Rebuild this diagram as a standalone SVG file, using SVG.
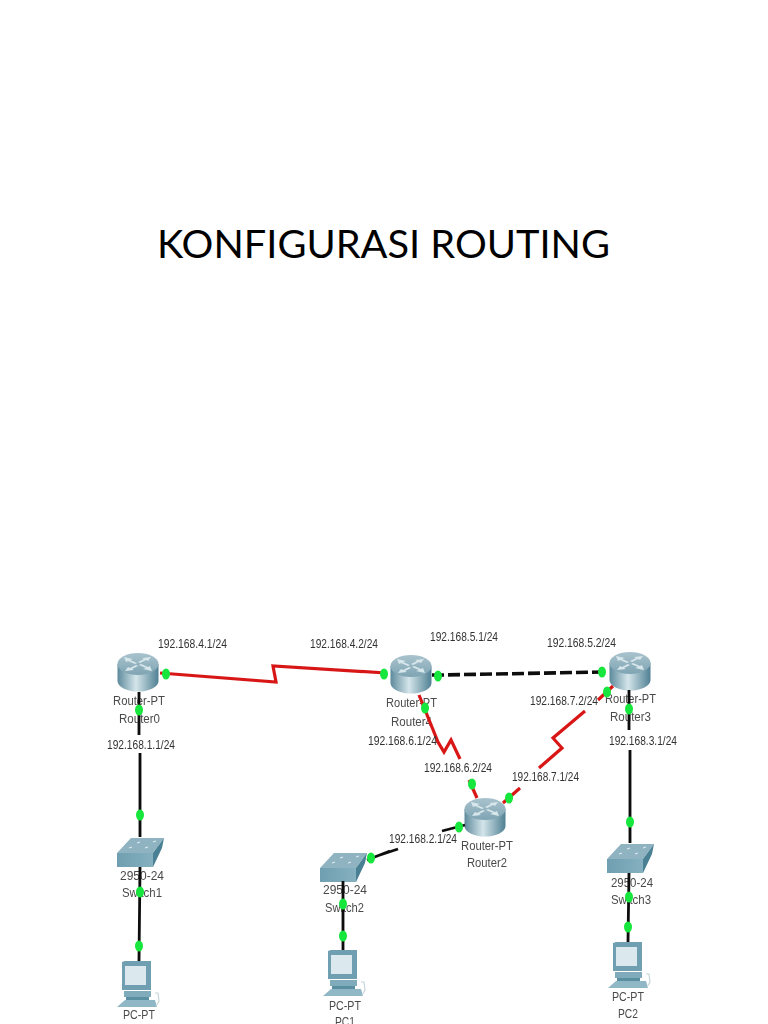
<svg xmlns="http://www.w3.org/2000/svg" xmlns:xlink="http://www.w3.org/1999/xlink" width="768" height="1024" viewBox="0 0 768 1024">
<style>
.title{font-family:"Lato","Liberation Sans",sans-serif;font-size:38px;fill:#000}
.lb{font-family:"Liberation Sans",Arial,sans-serif;font-size:12.5px;fill:#4a4a4a;text-anchor:start}
.ip{fill:#333}
.blk,.red,.dash{fill:none;stroke-linejoin:miter;stroke-linecap:butt}
.blk{stroke:#0c0c0c;stroke-width:2.800}
.red{stroke:#d81818;stroke-width:3.200}
.dash{stroke:#0c0c0c;stroke-width:3.600;stroke-dasharray:12 4}
.dot{fill:#19e63c}
.soft{filter:url(#soft)}
</style>
<defs>
<filter id="soft" x="-5%" y="-5%" width="110%" height="110%"><feGaussianBlur stdDeviation="0.55"/></filter>
<linearGradient id="rb" x1="0" x2="1" y1="0" y2="0">
<stop offset="0" stop-color="#5d8a9c"/><stop offset="0.45" stop-color="#d4e5ea"/><stop offset="1" stop-color="#4f8093"/>
</linearGradient>
<linearGradient id="rt" x1="0" x2="0" y1="0" y2="1">
<stop offset="0" stop-color="#a9c3cd"/><stop offset="1" stop-color="#7fa4b3"/>
</linearGradient>
<linearGradient id="sf" x1="0" x2="1" y1="0" y2="0">
<stop offset="0" stop-color="#6f9fb1"/><stop offset="1" stop-color="#85b0bf"/>
</linearGradient>
<g id="router">
<path d="M-20.500-8V9A20.500 10.500 0 0 0 20.500 9V-8Z" fill="url(#rb)"/>
<ellipse cx="0" cy="-8" rx="20.500" ry="11" fill="url(#rt)"/>
<path d="M-14-15L-5-13L-8-12L-1-9L-3-8L-10-11L-12-10ZM14-1L5-3L8-4L1-7L3-8L10-5L12-6ZM-13-1L-10-5L-8-4L-2-7L0-6L-6-3L-4-2ZM13-15L10-11L8-12L2-9L0-10L6-13L4-14Z" fill="#d8e7ec"/>
</g>
<g id="switch">
<path d="M0 16L14 1H47L36 16Z" fill="#8fb3c0"/>
<path d="M0 16H36V30H0Z" fill="url(#sf)"/>
<path d="M36 16L47 1L45 11L36 30Z" fill="#4a8094"/>
<path d="M12 11l3-1M20 6l3-1M28 11l3-1M36 5l3-1" stroke="#dcebef" stroke-width="1.200"/>
</g>
<g id="pc">
<path d="M5 1L8 0H34V29H5Z" fill="#6f9fb2"/>
<path d="M8 5H29V24H8Z" fill="#dbe8ee"/>
<path d="M7 30H34V36H7Z" fill="#7fabbb"/>
<path d="M9 36H32V39H9Z" fill="#5a8ea1"/>
<path d="M0 46L8 39H38L40 46Z" fill="#8fb7c5"/>
<path d="M38 32h3l1 8l-3 5" fill="none" stroke="#c6d5da" stroke-width="1.200"/>
</g>
</defs>
<rect width="768" height="1024" fill="#fff"/>
<text id="title" class="title" x="157" y="258" textLength="453" lengthAdjust="spacingAndGlyphs">KONFIGURASI ROUTING</text>
<g class="soft">
<g id="Router0"><use xlink:href="#router" href="#router" x="138" y="672"/>
<text class="lb" x="113" y="705" textLength="52" lengthAdjust="spacingAndGlyphs">Router-PT</text>
<text class="lb" x="119" y="723" textLength="41" lengthAdjust="spacingAndGlyphs">Router0</text></g>
<g id="Router4"><use xlink:href="#router" href="#router" x="411" y="674"/>
<text class="lb" x="386" y="707" textLength="51" lengthAdjust="spacingAndGlyphs">Router-PT</text>
<text class="lb" x="391" y="726" textLength="41" lengthAdjust="spacingAndGlyphs">Router4</text></g>
<g id="Router3"><use xlink:href="#router" href="#router" x="630" y="671"/>
<text class="lb" x="605" y="703" textLength="51" lengthAdjust="spacingAndGlyphs">Router-PT</text>
<text class="lb" x="610" y="721" textLength="41" lengthAdjust="spacingAndGlyphs">Router3</text></g>
<g id="Router2"><use xlink:href="#router" href="#router" x="485" y="817"/>
<text class="lb" x="461" y="850" textLength="52" lengthAdjust="spacingAndGlyphs">Router-PT</text>
<text class="lb" x="467" y="867" textLength="40" lengthAdjust="spacingAndGlyphs">Router2</text></g>
<g id="Switch1"><use xlink:href="#switch" href="#switch" x="117" y="837"/>
<text class="lb" x="120" y="880" textLength="44" lengthAdjust="spacingAndGlyphs">2950-24</text>
<text class="lb" x="122" y="897" textLength="40" lengthAdjust="spacingAndGlyphs">Switch1</text></g>
<g id="Switch2"><use xlink:href="#switch" href="#switch" x="320" y="852"/>
<text class="lb" x="323" y="894" textLength="44" lengthAdjust="spacingAndGlyphs">2950-24</text>
<text class="lb" x="325" y="912" textLength="39" lengthAdjust="spacingAndGlyphs">Switch2</text></g>
<g id="Switch3"><use xlink:href="#switch" href="#switch" x="607" y="843"/>
<text class="lb" x="611" y="887" textLength="42" lengthAdjust="spacingAndGlyphs">2950-24</text>
<text class="lb" x="611" y="904" textLength="40" lengthAdjust="spacingAndGlyphs">Switch3</text></g>
<g id="PC0"><use xlink:href="#pc" href="#pc" x="117" y="961"/>
<text class="lb" x="123" y="1019" textLength="32" lengthAdjust="spacingAndGlyphs">PC-PT</text></g>
<g id="PC1"><use xlink:href="#pc" href="#pc" x="323" y="950"/>
<text class="lb" x="329" y="1010" textLength="32" lengthAdjust="spacingAndGlyphs">PC-PT</text>
<text class="lb" x="335" y="1026" textLength="20" lengthAdjust="spacingAndGlyphs">PC1</text></g>
<g id="PC2"><use xlink:href="#pc" href="#pc" x="608" y="942"/>
<text class="lb" x="612" y="1001" textLength="32" lengthAdjust="spacingAndGlyphs">PC-PT</text>
<text class="lb" x="618" y="1018" textLength="20" lengthAdjust="spacingAndGlyphs">PC2</text></g>
<g id="connectors">
<path class="red" d="M160 673L276 682L273 666L386 673"/>
<path class="dash" d="M432 675L440 675L603 672"/>
<path class="red" d="M419 695L438 742L444 752L451 740L460 759M469 780L477 798"/>
<path class="red" d="M503 803L520 788M539 768L562 748L553 738L585 711M598 700L613 686"/>
<path class="blk" d="M139 692V735M140 753V837M140 867L139 961"/>
<path class="blk" d="M629 690V730M630 750V843M629 873L628 942"/>
<path class="blk" d="M367 860L390 851M380 855L398 849M442 831L465 825"/>
<path class="blk" d="M343 881V950"/>
</g>
<g id="ports">
<ellipse class="dot" cx="166" cy="674" rx="4" ry="5.500"/>
<ellipse class="dot" cx="139" cy="710" rx="4" ry="5.500"/>
<ellipse class="dot" cx="140" cy="815" rx="4" ry="5.500"/>
<ellipse class="dot" cx="140" cy="892" rx="4" ry="5.500"/>
<ellipse class="dot" cx="139" cy="946" rx="4" ry="5.500"/>
<ellipse class="dot" cx="384" cy="674" rx="4" ry="5.500"/>
<ellipse class="dot" cx="438" cy="676" rx="4" ry="5.500"/>
<ellipse class="dot" cx="602" cy="672" rx="4" ry="5.500"/>
<ellipse class="dot" cx="607" cy="692" rx="4" ry="5.500"/>
<ellipse class="dot" cx="425" cy="708" rx="4" ry="5.500"/>
<ellipse class="dot" cx="472" cy="784" rx="4" ry="5.500"/>
<ellipse class="dot" cx="509" cy="798" rx="4" ry="5.500"/>
<ellipse class="dot" cx="459" cy="827" rx="4" ry="5.500"/>
<ellipse class="dot" cx="629" cy="709" rx="4" ry="5.500"/>
<ellipse class="dot" cx="630" cy="822" rx="4" ry="5.500"/>
<ellipse class="dot" cx="629" cy="897" rx="4" ry="5.500"/>
<ellipse class="dot" cx="628" cy="927" rx="4" ry="5.500"/>
<ellipse class="dot" cx="371" cy="858" rx="4" ry="5.500"/>
<ellipse class="dot" cx="343" cy="904" rx="4" ry="5.500"/>
<ellipse class="dot" cx="343" cy="936" rx="4" ry="5.500"/>
</g>
<g id="addresses">
<text class="lb ip" x="158" y="648" textLength="69" lengthAdjust="spacingAndGlyphs">192.168.4.1/24</text>
<text class="lb ip" x="310" y="648" textLength="68" lengthAdjust="spacingAndGlyphs">192.168.4.2/24</text>
<text class="lb ip" x="107" y="749" textLength="68" lengthAdjust="spacingAndGlyphs">192.168.1.1/24</text>
<text class="lb ip" x="430" y="641" textLength="68" lengthAdjust="spacingAndGlyphs">192.168.5.1/24</text>
<text class="lb ip" x="547" y="647" textLength="69" lengthAdjust="spacingAndGlyphs">192.168.5.2/24</text>
<text class="lb ip" x="530" y="705" textLength="68" lengthAdjust="spacingAndGlyphs">192.168.7.2/24</text>
<text class="lb ip" x="368" y="745" textLength="69" lengthAdjust="spacingAndGlyphs">192.168.6.1/24</text>
<text class="lb ip" x="424" y="772" textLength="68" lengthAdjust="spacingAndGlyphs">192.168.6.2/24</text>
<text class="lb ip" x="512" y="781" textLength="67" lengthAdjust="spacingAndGlyphs">192.168.7.1/24</text>
<text class="lb ip" x="609" y="745" textLength="68" lengthAdjust="spacingAndGlyphs">192.168.3.1/24</text>
<text class="lb ip" x="389" y="843" textLength="68" lengthAdjust="spacingAndGlyphs">192.168.2.1/24</text>
</g>
</g>
</svg>
